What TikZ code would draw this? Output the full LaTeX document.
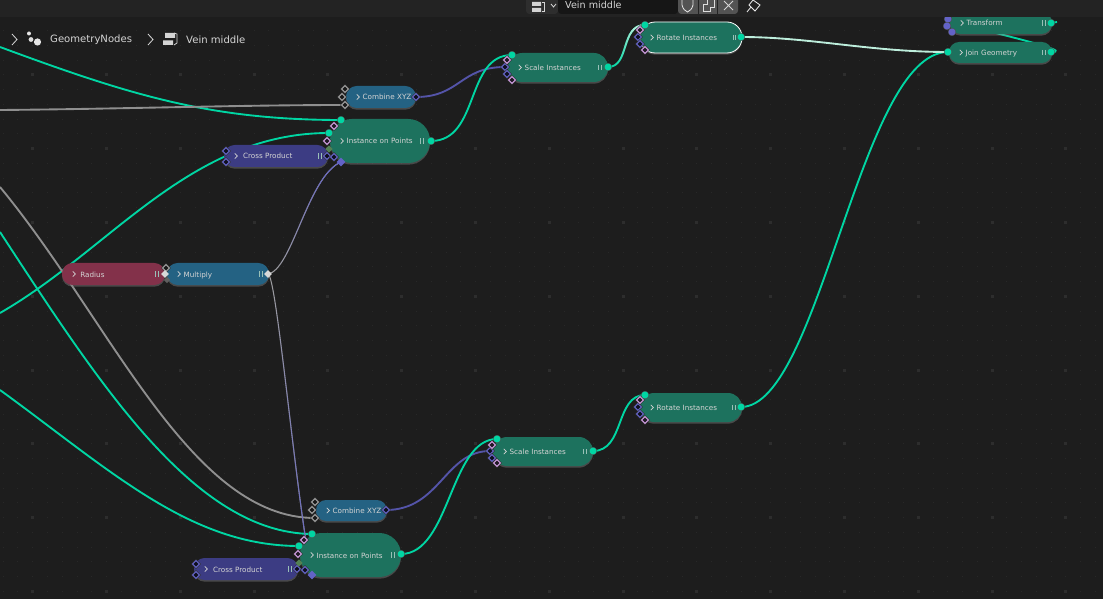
\documentclass[tikz,border=0pt]{standalone}
\usepackage{fontspec}
\setmainfont{DejaVu Sans}
\usetikzlibrary{shapes.geometric,shadows,fadings}
\pgfdeclarelayer{wires}
\pgfdeclarelayer{top}
\pgfsetlayers{wires,main,top}
\definecolor{bgcol}{HTML}{1D1D1D}
\definecolor{barcol}{HTML}{232323}
\definecolor{geocol}{HTML}{1D725E}
\definecolor{mathcol}{HTML}{246283}
\definecolor{veccol}{HTML}{3C3C83}
\definecolor{inpcol}{HTML}{83314A}
\definecolor{greenw}{HTML}{00D6A3}
\definecolor{greyw}{HTML}{9E9E9E}
\definecolor{greyline}{HTML}{8F8F8F}
\definecolor{purplew}{HTML}{6363C7}
\definecolor{pinkw}{HTML}{CE9CE0}
\definecolor{mintw}{HTML}{BDEEDC}
\definecolor{textcol}{HTML}{D4D4D4}
\newcommand{\nlab}[1]{\makebox[0pt][l]{#1}}
\tikzfading[name = fadeup, top color = transparent!0, middle color = transparent!0, bottom color = transparent!100]
\tikzfading[name = fadedown, top color = transparent!100, middle color = transparent!0, bottom color = transparent!0]
\tikzset{
  body/.style 2 args = {rectangle, minimum width = #1, minimum height = #2, rounded corners = #2/2 - 0.01cm,
                        inner xsep = 0.5cm, inner ysep = 0, text width = #1 - 1cm, align = left,
                        text height = 0.2cm, text depth = 0.02cm,
                        font = \fontsize{6.15}{7}\selectfont, text = textcol,
                        drop shadow = {shadow xshift = 0, shadow yshift = -0.05cm, opacity = 0.45}},
  hollow/.style = {diamond, inner sep = 0, minimum size = 0.22cm, draw = #1, line width = 0.9pt,
                   fill = #1!15!black, preaction = {draw = black!80, line width = 1.6pt}},
  solidd/.style = {diamond, inner sep = 0, minimum size = 0.27cm, fill = #1},
  dot/.style = {circle, inner sep = 0, minimum size = 0.23cm, fill = #1, draw = black!70, line width = 0.3pt},
  wire/.style = {line width = 1.6pt, draw = #1},
  thinw/.style = {line width = 0.9pt, draw = #1},
  chev/.style = {draw = textcol, line width = 0.6pt},
  bars/.style = {draw = white!55!geocol, line width = 0.8pt},
  crumb/.style = {font = \fontsize{8.6}{10}\selectfont, text = textcol, inner sep = 0, anchor = west}
}
\begin{document}
\begin{tikzpicture}[x = 0.03cm, y = -0.03cm]
  \useasboundingbox (0, 0) rectangle (1103, 599);
  \clip (0, 0) rectangle (1103, 599);
  \begin{pgfonlayer}{wires}
    \fill [bgcol] (0, 0) rectangle (1103, 599);
    \foreach \i in {0, ..., 74}
      \foreach \j in {0, ..., 40}
        \fill [white!5!bgcol] (2.7 + 14.76*\i, 0.6 + 14.76*\j) rectangle +(1, 1);
    \foreach \i in {0, ..., 14}
      \foreach \j in {0, ..., 8}
        \fill [white!7!bgcol] (31.2 + 73.8*\i, -0.4 + 73.8*\j) rectangle +(3, 3);
  \end{pgfonlayer}

  % nodes
  \node [body={2.1cm}{0.66cm}, fill = mathcol] (cmbA) at (381, 97) {\nlab{Combine XYZ}};
  \node [body={3cm}{1.32cm}, fill = geocol] (ionA) at (380, 141) {\nlab{Instance on Points}};
  \node [body={3.12cm}{0.66cm}, fill = veccol] (crsA) at (276, 156) {\nlab{\kern 0.07cm Cross Product}};
  \node [body={3cm}{0.87cm}, fill = geocol] (sclA) at (558, 67.5) {\nlab{Scale Instances}};
  \node [body={3.06cm}{0.93cm}, fill = geocol, draw = white, line width = 0.7pt] (rotA) at (691, 37.5) {\nlab{Rotate Instances}};
  \node [body={3.06cm}{0.66cm}, fill = geocol] (trn) at (1001, 23) {\nlab{Transform}};
  \node [body={3.09cm}{0.63cm}, fill = geocol] (joi) at (1000.5, 52.5) {\nlab{Join Geometry}};
  \node [body={3.09cm}{0.66cm}, fill = inpcol] (rad) at (113.5, 274) {\nlab{\kern 0.05cm Radius}};
  \node [body={3.06cm}{0.66cm}, fill = mathcol] (mul) at (218, 274) {\nlab{Multiply}};
  \node [body={3.06cm}{0.87cm}, fill = geocol] (rotB) at (691, 407.5) {\nlab{Rotate Instances}};
  \node [body={3cm}{0.87cm}, fill = geocol] (sclB) at (543, 451.5) {\nlab{Scale Instances}};
  \node [body={2.13cm}{0.63cm}, fill = mathcol] (cmbB) at (351.5, 510.5) {\nlab{Combine XYZ}};
  \node [body={3.03cm}{1.32cm}, fill = geocol] (ionB) at (350.5, 555) {\nlab{Instance on Points}};
  \node [body={3.12cm}{0.66cm}, fill = veccol] (crsB) at (246, 569) {\nlab{\kern 0.07cm Cross Product}};

  % chevrons and hide marks
  \foreach \n in {cmbA, ionA, crsA, sclA, rotA, trn, joi, rad, mul, rotB, sclB, cmbB, ionB, crsB}{
    \draw [chev] ([xshift = 0.33cm, yshift = 0.08cm]\n.west) -- ++(0.08cm, -0.08cm) -- ++(-0.08cm, -0.08cm);
  }
  \foreach \n in {ionA, crsA, sclA, rotA, trn, joi, rad, mul, rotB, sclB, ionB, crsB}{
    \draw [bars] ([xshift = -0.2cm, yshift = 0.08cm]\n.east) -- ++(0, -0.16cm);
    \draw [bars] ([xshift = -0.28cm, yshift = 0.08cm]\n.east) -- ++(0, -0.16cm);
  }

  % sockets
  \foreach \n/\x/\y in {cA1/345/89, cA2/342/97, cA3/345/105, cB1/315/502, cB2/312/510, cB3/315/518, mu1/166/268}
    \node [hollow = greyw] (\n) at (\x, \y) {};
  \foreach \n/\x/\y in {cAo/416/97, cBo/386/510, xA1/226/151, xA2/226/162, xAo/327/156, xB1/196/564, xB2/196/575,
                        xBo/297/569, iA5/334/157, iB5/305/570, sA3/505/67, sA4/507/74, sB3/490/451, sB4/492/458,
                        rA3/638/37, rA4/640/44, rB3/638/407, rB4/640/414}
    \node [hollow = purplew] (\n) at (\x, \y) {};
  \foreach \n/\x/\y in {iA2/334/126, iA4/327/141, iB2/304/540, iB4/298/554, sA2/507/60, sA5/512/80, sB2/492/445,
                        sB5/497/463, rA2/640/30, rA5/645/50, rB2/640/400, rB5/645/420}
    \node [hollow = pinkw] (\n) at (\x, \y) {};
  \foreach \n/\x/\y in {iA6/341/162, iB6/312/575}
    \node [solidd = purplew] (\n) at (\x, \y) {};
  \foreach \n/\x/\y in {iA7/329/149, iB7/299/563}
    \node [solidd = green!25!greyw!70!black, minimum size = 0.22cm] (\n) at (\x, \y) {};
  \node [solidd = greyw!60!black, minimum size = 0.2cm] (mu2) at (167, 280) {};
  \node [solidd = greyw!40!white, minimum size = 0.24cm] (rao) at (165, 274) {};
  \node [solidd = greyw!40!white, minimum size = 0.24cm] (muo) at (268, 274) {};
  \foreach \n/\x/\y in {iA1/341/120, iA3/329/133, iAo/431/141, iB1/312/534, iB3/299/546, iBo/401/554,
                        sA1/512/55, sAo/608/67, sB1/497/439, sBo/593/451, rA1/645/25, rAo/741/37,
                        rB1/645/395, rBo/741/407, joI/948/52, joO/1051/52, trO/1051/23}
    \node [dot = greenw] (\n) at (\x, \y) {};
  \foreach \n/\x/\y in {tr1/948/19, tr2/947/26, tr3/952/32}
    \node [dot = purplew] (\n) at (\x, \y) {};

  % wires
  \coordinate (inA) at (0, 47);
  \coordinate (inB) at (0, 313);
  \coordinate (inC) at (0, 232);
  \coordinate (inD) at (0, 390);
  \coordinate (inE) at (0, 187);
  \coordinate (inF) at (0, 110);
  \coordinate (trE) at (1057, 22);
  \begin{pgfonlayer}{wires}
    \draw [wire = greenw] (inA) .. controls (130, 95) and (210, 120) .. (iA1.center);
    \draw [wire = greenw] (inB) .. controls (110, 250) and (190, 133) .. (iA3.center);
    \draw [wire = greenw] (inC) .. controls (100, 385) and (195, 533) .. (iB1.center);
    \draw [wire = greenw] (inD) .. controls (110, 470) and (190, 546) .. (iB3.center);
    \draw [wire = greyline] (inE) .. controls (110, 320) and (190, 518) .. (cB3.center);
    \draw [wire = greyline] (inF) .. controls (120, 109) and (240, 105) .. (cA3.center);

    \draw [wire = purplew!85!black] (cAo.center) .. controls (460, 97) and (460, 67) .. (sA3.center);
    \draw [wire = purplew!85!black] (cBo.center) .. controls (440, 510) and (445, 451) .. (sB3.center);
    \draw [wire = greenw] (iAo.center) .. controls (480, 141) and (465, 55) .. (sA1.center);
    \draw [wire = greenw] (iBo.center) .. controls (450, 554) and (450, 439) .. (sB1.center);
    \draw [wire = greenw] (sBo.center) .. controls (625, 451) and (615, 395) .. (rB1.center);
    \draw [wire = greenw] (rBo.center) .. controls (820, 407) and (860, 52) .. (joI.center);
    \draw [wire = greenw] (joO.center) .. controls (1085, 52) and (930, 19) .. (tr1.center);
    \draw [wire = greenw] (trO.center) -- (trE);

    \draw [wire = greenw] (sAo.center) .. controls (630, 67) and (620, 25) .. (rA1.center);
    \draw [wire = mintw, path fading = fadeup] (sAo.center) .. controls (630, 67) and (620, 25) .. (rA1.center);
    \draw [wire = mintw] (rAo.center) .. controls (810, 37) and (870, 52) .. (joI.center);

    \draw [thinw = greyw] (muo.center) .. controls (292, 270) and (308, 176) .. (iA6.center);
    \draw [thinw = purplew, path fading = fadeup] (muo.center) .. controls (292, 270) and (308, 176) .. (iA6.center);
    \draw [thinw = greyw] (muo.center) .. controls (277, 276) and (296, 500) .. (iB6.center);
    \draw [thinw = purplew, path fading = fadedown] (muo.center) .. controls (277, 276) and (296, 500) .. (iB6.center);
  \end{pgfonlayer}

  % header
  \begin{pgfonlayer}{top}
    \fill [barcol] (0, 0) rectangle (1103, 17);
    \fill [white!5!barcol, rounded corners = 0.1cm] (526, -5) rectangle (558, 14);
    \fill [black!25!bgcol, rounded corners = 0.1cm] (558, -5) rectangle (678, 14);
    \fill [white!22!barcol, rounded corners = 0.1cm] (678, -5) rectangle (738, 14);
    \draw [barcol, line width = 0.8pt] (698, -5) -- (698, 14) (717, -5) -- (717, 14);
    \node [crumb, font = \fontsize{8.2}{10}\selectfont] (hdrname) at (565, 5) {Vein middle};
    \draw [textcol!60, line width = 0.7pt] (682, 0) -- (682, 5) .. controls (683, 9) and (685, 11) .. (687.5, 12)
      .. controls (690, 11) and (692, 9) .. (693, 5) -- (693, 0);
    \draw [textcol!80, line width = 0.7pt] (707, 0) -- (707, 4) -- (703, 4) -- (703, 11) -- (710, 11) -- (710, 7) -- (714, 7) -- (714, 0);
    \draw [textcol, line width = 0.8pt] (724, 1) -- (733, 10) (733, 1) -- (724, 10);
    \draw [textcol!50, line width = 0.7pt] (747, 12) -- (751, 7) (753, 0) -- (760, 5) -- (755, 11) -- (749, 5) -- cycle;
    \fill [textcol] (532, 2) rectangle (541, 6) (532, 8) rectangle (541, 12);
    \draw [textcol, line width = 0.6pt] (542, 2) -- (544, 2) -- (544, 11) -- (542, 11);
    \draw [textcol, line width = 0.7pt] (551, 4) -- (553.5, 7) -- (556, 4);
  \end{pgfonlayer}

  % breadcrumb
  \draw [chev, line width = 0.7pt] (12, 34) -- (17, 39.5) -- (12, 45);
  \draw [chev, line width = 0.7pt] (148, 34) -- (153, 39.5) -- (148, 45);
  \fill [textcol!60] (29, 33.5) circle (2);
  \fill [textcol!80] (31, 39.5) circle (2.4);
  \fill [white!90!black] (37.5, 42) circle (3.6);
  \fill [textcol] (165, 33) rectangle (175, 38) (163, 40.5) rectangle (173, 45);
  \draw [textcol, line width = 0.6pt] (174, 33) -- (177, 34) -- (177, 43) -- (174, 45);
  \node [crumb] (crumbA) at (50, 39.5) {GeometryNodes};
  \node [crumb] (crumbB) at (186, 39.5) {Vein middle};
\end{tikzpicture}
\end{document}
